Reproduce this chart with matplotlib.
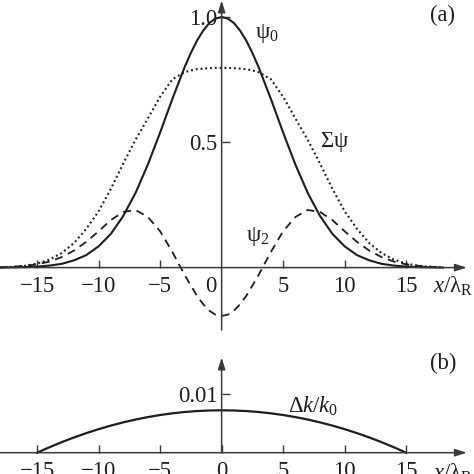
import matplotlib
matplotlib.use("Agg")
import matplotlib.pyplot as plt

plt.rcParams['font.family'] = ['Liberation Serif', 'DejaVu Serif']
plt.rcParams['mathtext.fontset'] = 'custom'
plt.rcParams['mathtext.rm'] = 'Liberation Serif'
plt.rcParams['mathtext.it'] = 'Liberation Serif:italic'
plt.rcParams['axes.unicode_minus'] = True

# ---- panel (a) data ----
x_a = [-18, -17, -16, -15, -14, -13, -12, -11, -10, -9, -8, -7, -6, -5, -4,
       -3, -2.5, -2, -1.5, -1, -0.5, 0, 0.5, 1, 1.5, 2, 2.5, 3,
       4, 5, 6, 7, 8, 9, 10, 11, 12, 13, 14, 15, 16, 17, 18]
psi0 = [0.000, 0.001, 0.002, 0.004, 0.008, 0.015, 0.029, 0.050, 0.085, 0.135, 0.206,
        0.298, 0.411, 0.539, 0.674,
        0.801, 0.857, 0.906, 0.946, 0.976, 0.994, 1.000, 0.994, 0.976, 0.946, 0.906, 0.857, 0.801,
        0.674, 0.539, 0.411, 0.298, 0.206, 0.135, 0.085, 0.050, 0.029, 0.015, 0.008, 0.004,
        0.002, 0.001, 0.000]
psi2 = [0.001, 0.003, 0.007, 0.013, 0.024, 0.042, 0.068, 0.103, 0.145, 0.190, 0.222,
        0.230, 0.202, 0.145, 0.062,
        -0.030, -0.072, -0.113, -0.146, -0.172, -0.188, -0.193, -0.188, -0.172, -0.146, -0.113,
        -0.072, -0.030,
        0.062, 0.145, 0.202, 0.230, 0.222, 0.190, 0.145, 0.103, 0.068, 0.042, 0.024, 0.013,
        0.007, 0.003, 0.001]
psi_sum = [0.001, 0.003, 0.007, 0.016, 0.032, 0.058, 0.098, 0.155, 0.225, 0.315, 0.415,
           0.510, 0.595, 0.682, 0.752,
           0.780, 0.787, 0.792, 0.794, 0.796, 0.797, 0.797, 0.797, 0.796, 0.794, 0.792, 0.787, 0.780,
           0.752, 0.682, 0.595, 0.510, 0.415, 0.315, 0.225, 0.155, 0.098, 0.058, 0.032, 0.016,
           0.007, 0.003, 0.001]

# ---- panel (b) data ----
x_b = [-15, -14, -13, -12, -11, -10, -9, -8, -7, -6, -5, -4, -3, -2, -1, 0,
       1, 2, 3, 4, 5, 6, 7, 8, 9, 10, 11, 12, 13, 14, 15]
dk = [0.0, 0.000936, 0.001807, 0.002614, 0.003356, 0.004033, 0.004646, 0.005195,
      0.005679, 0.006098, 0.006453, 0.006744, 0.006970, 0.007131, 0.007228, 0.00726,
      0.007228, 0.007131, 0.006970, 0.006744, 0.006453, 0.006098, 0.005679, 0.005195,
      0.004646, 0.004033, 0.003356, 0.002614, 0.001807, 0.000936, 0.0]

xticks_a = [-15, -10, -5, 5, 10, 15]
xticks_b = [-15, -10, -5, 0, 5, 10, 15]

ink = '#1e1e1e'
axcol = '#3a3a3a'
fs = 16.3

fig = plt.figure(figsize=(4.74, 4.74), dpi=100)

# ---------------- panel (a) ----------------
ax1 = fig.add_axes([0, 1 - 340 / 474, 1, 340 / 474])
ax1.set_xlim(-18.02, 20.52)
ax1.set_ylim(-0.289, 1.068)
for s in ax1.spines.values():
    s.set_color('none')
ax1.spines['left'].set_position(('data', 0))
ax1.spines['bottom'].set_position(('data', 0))

ax1.plot(x_a, psi0, color=ink, lw=1.5, solid_joinstyle='round')
ax1.plot(x_a, psi2, color=ink, lw=1.3, dashes=(4.5, 3.2))
ax1.plot(x_a, psi_sum, color=ink, lw=1.5, dashes=(0.9, 1.4), dash_capstyle='butt')

arrow_style = '-|>,head_length=0.7,head_width=0.22'
ax1.annotate('', xy=(19.94, 0), xytext=(-18.02, 0),
             arrowprops=dict(arrowstyle=arrow_style, color=axcol, lw=1.1, shrinkA=0, shrinkB=0))
ax1.annotate('', xy=(0, 1.066), xytext=(0, -0.249),
             arrowprops=dict(arrowstyle=arrow_style, color=axcol, lw=1.1, shrinkA=0, shrinkB=0))

ax1.set_xticks(xticks_a)
ax1.set_xticklabels([f'{v}' if v >= 0 else f'\u2212{-v}' for v in xticks_a])
ax1.set_xticks([-0.87], minor=True)
ax1.set_xticklabels(['0'], minor=True)
ax1.set_yticks([0.5, 1.0])
ax1.set_yticklabels(['0.5', '1.0'])
ax1.tick_params(axis='x', which='major', direction='in', length=5.5, width=1.0,
                color=axcol, labelsize=fs, labelcolor=ink, pad=6)
ax1.tick_params(axis='x', which='minor', length=0, labelsize=fs, labelcolor=ink, pad=6)
ax1.tick_params(axis='y', direction='in', length=5.5, width=1.0,
                color=axcol, labelsize=fs, labelcolor=ink, pad=3)
for lab in ax1.get_yticklabels():
    lab.set_bbox(dict(facecolor='white', edgecolor='none', pad=0.3))

ax1.text(2.7, 0.935, '$\\mathrm{ψ}_0$', fontsize=fs, color=ink, ha='left', va='center')
ax1.text(8.0, 0.50, '$\\mathrm{Σψ}$', fontsize=fs, color=ink, ha='left', va='center')
ax1.text(2.0, 0.126, '$\\mathrm{ψ}_2$', fontsize=fs, color=ink, ha='left', va='center')
ax1.text(16.95, 1.05, '(a)', fontsize=fs, color=ink, ha='left', va='top')
ax1.text(17.2, -0.028, '$x/\\mathrm{λ}_\\mathrm{R}$', fontsize=fs, color=ink, ha='left', va='top')

# ---------------- panel (b) ----------------
ax2 = fig.add_axes([0, 0, 1, 129 / 474])
ax2.set_xlim(-18.02, 20.52)
ax2.set_ylim(-0.003647, 0.018442)
for s in ax2.spines.values():
    s.set_color('none')
ax2.spines['left'].set_position(('data', 0))
ax2.spines['bottom'].set_position(('data', 0))

ax2.plot(x_b, dk, color=ink, lw=1.6)

ax2.annotate('', xy=(19.94, 0), xytext=(-18.02, 0),
             arrowprops=dict(arrowstyle=arrow_style, color=axcol, lw=1.1, shrinkA=0, shrinkB=0))
ax2.annotate('', xy=(0, 0.0163), xytext=(0, 0),
             arrowprops=dict(arrowstyle=arrow_style, color=axcol, lw=1.1, shrinkA=0, shrinkB=0))

ax2.set_xticks(xticks_b)
ax2.set_xticklabels([f'{v}' if v >= 0 else f'\u2212{-v}' for v in xticks_b])
ax2.set_yticks([0.01])
ax2.set_yticklabels(['0.01'])
ax2.tick_params(axis='x', direction='in', length=5.5, width=1.0,
                color=axcol, labelsize=fs, labelcolor=ink, pad=6)
ax2.tick_params(axis='y', direction='in', length=5.5, width=1.0,
                color=axcol, labelsize=fs, labelcolor=ink, pad=3)

ax2.text(5.4, 0.0080, '$\\mathrm{Δ}k/k_0$', fontsize=fs, color=ink, ha='left', va='center')
ax2.text(16.95, 0.0171, '(b)', fontsize=fs, color=ink, ha='left', va='top')
ax2.text(17.2, -0.0016, '$x/\\mathrm{λ}_\\mathrm{R}$', fontsize=fs, color=ink, ha='left', va='top')

fig.savefig('out.png', dpi=100, facecolor='white')
